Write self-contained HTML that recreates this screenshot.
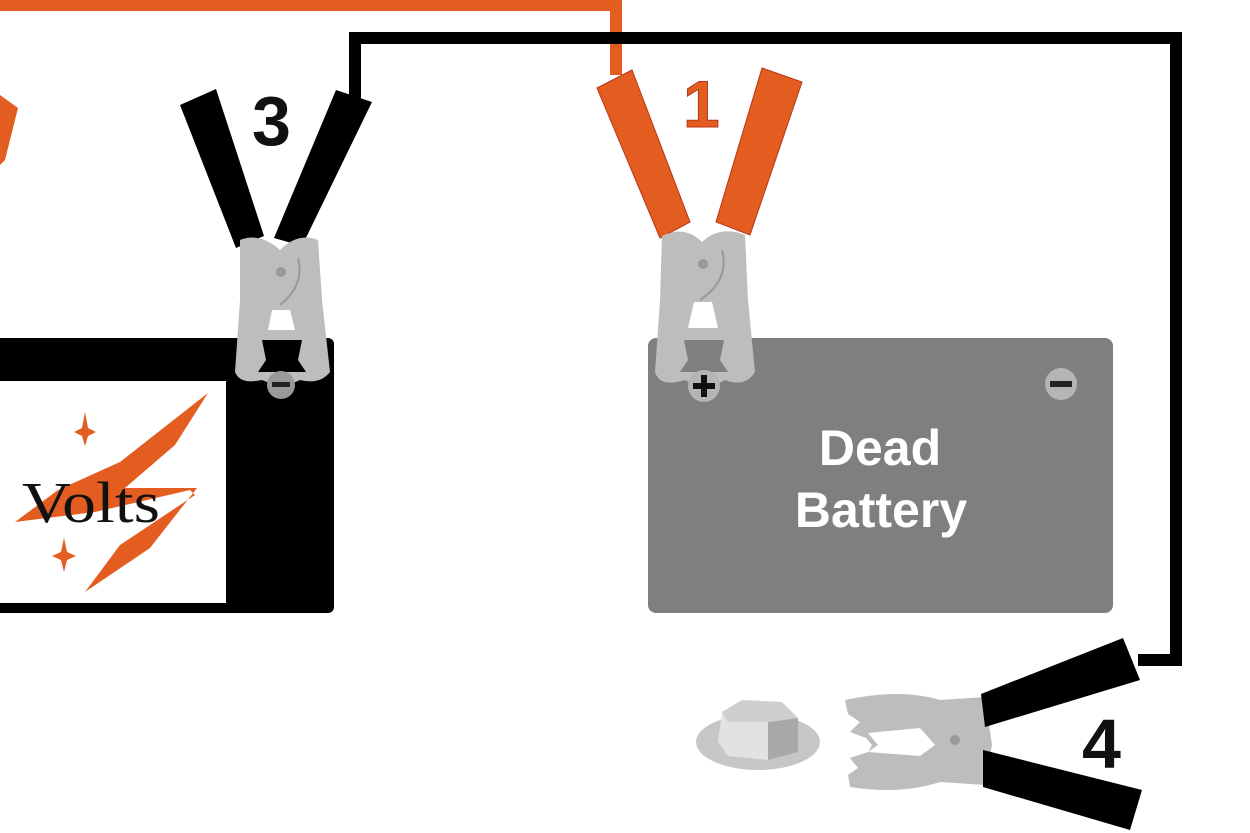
<!DOCTYPE html>
<html><head><meta charset="utf-8"><style>
html,body{margin:0;padding:0;background:#fff;width:1250px;height:833px;overflow:hidden}
svg{display:block}
</style></head><body>
<svg width="1250" height="833" viewBox="0 0 1250 833" xmlns="http://www.w3.org/2000/svg">
<!-- orange wire -->
<path d="M0 5 H616 V75" fill="none" stroke="#e35d20" stroke-width="12"/>
<!-- black wire -->
<path d="M355 100 V38 H1176 V660 H1138" fill="none" stroke="#000" stroke-width="12"/>
<!-- left orange handle partial -->
<polygon points="0,95 18,108 5,160 0,165" fill="#e35d20"/>

<!-- left battery -->
<rect x="-10" y="338" width="344" height="275" rx="6" fill="#000"/>
<rect x="0" y="381" width="226" height="222" fill="#fff"/>
<!-- volts logo -->
<polygon points="208,393 120,462 58,490 15,522 95,512 190,490 195,495 120,545 85,592 150,548 197,488 125,488 175,445" fill="#e35d20"/>
<path d="M85 412 L88 428 L96 432 L88 436 L85 446 L82 436 L74 432 L82 428Z" fill="#e35d20"/>
<path d="M64 538 L67 552 L76 556 L67 560 L64 572 L61 560 L52 556 L61 552Z" fill="#e35d20"/>
<text x="22" y="522" font-family="Liberation Serif, serif" font-size="58" fill="#111" textLength="138" lengthAdjust="spacingAndGlyphs">Volts</text>

<!-- clamp 3 -->
<polygon points="180,105 216,89 264,236 236,248" fill="#000"/>
<polygon points="336,90 372,102 302,246 274,238" fill="#000"/>
<path d="M240 240 Q260 232 280 250 Q298 232 318 240 L322 300 L330 372 Q320 385 300 380 L282 388 L262 380 Q240 385 235 372 L240 300Z" fill="#bdbdbd"/>
<circle cx="281" cy="272" r="5" fill="#999"/>
<path d="M298 258 Q305 285 280 305" fill="none" stroke="#999" stroke-width="2"/>
<path d="M272 310 L290 310 L295 330 L268 330Z" fill="#fff"/>
<path d="M262 340 L302 340 L298 360 L306 372 L258 372 L266 360Z" fill="#000"/>
<circle cx="281" cy="385" r="14" fill="#999"/>
<rect x="272" y="382" width="18" height="5" fill="#222"/>
<text x="252" y="145" font-family="Liberation Sans, sans-serif" font-weight="bold" font-size="70" fill="#111">3</text>

<!-- dead battery -->
<rect x="648" y="338" width="465" height="275" rx="8" fill="#7f7f7f"/>
<text x="880" y="465" text-anchor="middle" font-family="Liberation Sans, sans-serif" font-weight="bold" font-size="50" fill="#fff">Dead</text>
<text x="881" y="527" text-anchor="middle" font-family="Liberation Sans, sans-serif" font-weight="bold" font-size="50" fill="#fff">Battery</text>
<circle cx="1061" cy="384" r="16" fill="#b5b5b5"/>
<rect x="1050" y="381" width="22" height="6" fill="#222"/>

<!-- clamp 1 -->
<polygon points="597,88 632,70 690,222 660,238" fill="#e35d20" stroke="#b8361a" stroke-width="1"/>
<polygon points="762,68 802,82 750,235 716,222" fill="#e35d20" stroke="#b8361a" stroke-width="1"/>
<path d="M662 236 Q685 225 702 242 Q720 225 745 235 L748 300 L755 372 Q745 388 725 380 L705 390 L685 380 Q660 388 655 372 L660 300Z" fill="#bdbdbd"/>
<circle cx="703" cy="264" r="5" fill="#999"/>
<path d="M722 250 Q730 280 700 300" fill="none" stroke="#999" stroke-width="2"/>
<path d="M694 302 L712 302 L718 328 L688 328Z" fill="#fff"/>
<path d="M684 340 L724 340 L720 360 L728 372 L680 372 L688 360Z" fill="#7f7f7f"/>
<circle cx="704" cy="386" r="16" fill="#b5b5b5"/>
<rect x="693" y="383" width="22" height="6" fill="#111"/>
<rect x="701" y="375" width="6" height="22" fill="#111"/>
<text x="683" y="127" font-family="Liberation Sans, sans-serif" font-weight="bold" font-size="66" fill="#e35d20" stroke="#b8361a" stroke-width="1">1</text>

<!-- nut -->
<ellipse cx="758" cy="742" rx="62" ry="28" fill="#c6c6c6"/>
<polygon points="722,712 742,700 782,702 798,718 798,752 768,760 728,756 718,742" fill="#e2e2e2"/>
<polygon points="768,722 798,718 798,752 768,760" fill="#a8a8a8"/>
<polygon points="722,712 742,700 782,702 798,718 768,722 728,722" fill="#cfcfcf"/>

<!-- clamp 4 -->
<path d="M845 700 Q900 688 940 700 L985 697 L992 745 L985 785 L940 782 Q900 795 850 787 L848 775 L858 768 L850 758 L868 752 L872 745 L866 738 L850 732 L860 722 L848 714Z" fill="#bdbdbd"/>
<path d="M868 733 L920 728 L935 745 L920 756 L868 752 L878 745Z" fill="#fff"/>
<circle cx="955" cy="740" r="5" fill="#999"/>
<polygon points="981,694 1123,638 1140,680 985,727" fill="#000"/>
<polygon points="983,750 1142,790 1130,830 983,787" fill="#000"/>
<text x="1082" y="768" font-family="Liberation Sans, sans-serif" font-weight="bold" font-size="70" fill="#111">4</text>
</svg>
</body></html>
